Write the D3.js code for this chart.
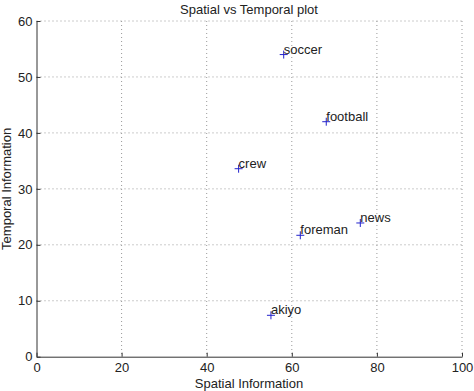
<!DOCTYPE html>
<html>
<head>
<meta charset="utf-8">
<script src="https://cdn.jsdelivr.net/npm/d3@7"></script>
<style>
  body { margin: 0; background: #fff; }
  text { font-family: "Liberation Sans", Arial, sans-serif; fill: #222; }
</style>
</head>
<body>
<script>
// Data
var names = ["soccer", "football", "crew", "news", "foreman", "akiyo"];
var spatial = [58.1, 68.1, 47.5, 76.1, 62.0, 55.1];
var temporal = [54.0, 42.0, 33.6, 23.9, 21.7, 7.4];
var xTicks = [0, 20, 40, 60, 80, 100];
var yTicks = [0, 10, 20, 30, 40, 50, 60];

var w = 474, h = 391;
var mLeft = 36.5, mRight = 462, mTop = 21, mBottom = 356.7;

var svg = d3.select("body").append("svg")
    .attr("width", w)
    .attr("height", h);

var x = d3.scaleLinear().domain([0, 100]).range([mLeft, mRight]);
var y = d3.scaleLinear().domain([0, 60]).range([mBottom, mTop]);

// Grid
svg.append("g").selectAll("line")
    .data(xTicks.slice(1))
    .enter().append("line")
    .attr("x1", d => x(d)).attr("x2", d => x(d))
    .attr("y1", mTop).attr("y2", mBottom)
    .style("stroke", "#999").style("stroke-dasharray", "1,3");

svg.append("g").selectAll("line")
    .data(yTicks.slice(1))
    .enter().append("line")
    .attr("x1", mLeft).attr("x2", mRight)
    .attr("y1", d => y(d)).attr("y2", d => y(d))
    .style("stroke", "#999").style("stroke-dasharray", "1,3");

// Axes
var xAxis = svg.append("g")
    .attr("transform", "translate(0," + mBottom + ")")
    .call(d3.axisBottom(x).tickValues(xTicks).tickSizeInner(-4).tickSizeOuter(0).tickPadding(6));

var yAxis = svg.append("g")
    .attr("transform", "translate(" + mLeft + ",0)")
    .call(d3.axisLeft(y).tickValues(yTicks).tickSizeInner(-4).tickSizeOuter(0).tickPadding(4));

[xAxis, yAxis].forEach(function(a) {
    a.selectAll("path, line").style("stroke", "#333");
    a.selectAll("text").style("font-size", "13px").style("font-family", "Liberation Sans, Arial, sans-serif").style("fill", "#222");
});

// Titles
svg.append("text")
    .attr("x", 249).attr("y", 14)
    .attr("text-anchor", "middle")
    .style("font-size", "13px")
    .text("Spatial vs Temporal plot");

svg.append("text")
    .attr("x", 249).attr("y", 388)
    .attr("text-anchor", "middle")
    .style("font-size", "13px")
    .text("Spatial Information");

svg.append("text")
    .attr("transform", "translate(11," + ((mTop + mBottom) / 2) + ") rotate(-90)")
    .attr("text-anchor", "middle")
    .style("font-size", "13px")
    .text("Temporal Information");

// Points
var pts = svg.selectAll(".pt")
    .data(names)
    .enter().append("g")
    .attr("class", "pt")
    .attr("transform", (d, i) => "translate(" + x(spatial[i]) + "," + y(temporal[i]) + ")");

pts.append("path")
    .attr("d", "M-4,0H4M0,-4V4")
    .style("stroke", "#2222cc")
    .style("stroke-width", 1);

pts.append("text")
    .attr("x", 0)
    .attr("y", -1)
    .style("font-size", "13px")
    .text(d => d);
</script>
</body>
</html>
